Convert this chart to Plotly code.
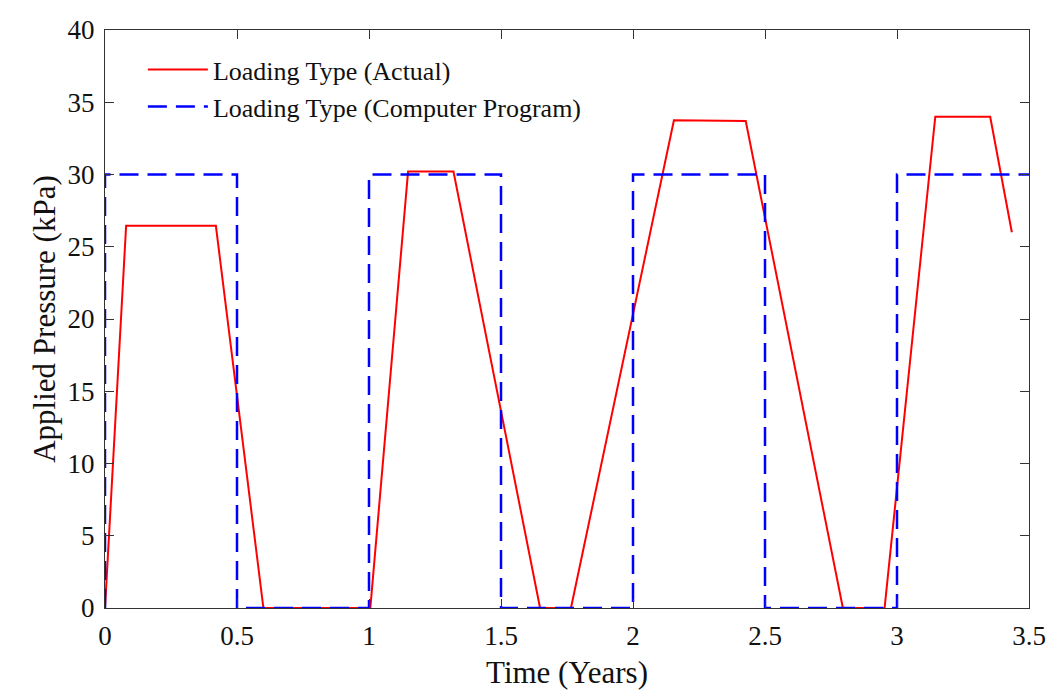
import plotly.graph_objects as go

# Actual loading (red)
actual_t = [0.0, 0.08, 0.42, 0.60, 1.005, 1.148, 1.32, 1.648, 1.765, 2.155, 2.427, 2.795, 2.953, 3.145, 3.353, 3.435]
actual_p = [0.0, 26.45, 26.45, 0.0, 0.0, 30.2, 30.2, 0.0, 0.0, 33.75, 33.7, 0.0, 0.0, 34.0, 34.0, 26.0]

# Computer program loading (blue dashed step)
prog_t = [0.0, 0.0, 0.5, 0.5, 1.0, 1.0, 1.5, 1.5, 2.0, 2.0, 2.5, 2.5, 3.0, 3.0, 3.5]
prog_p = [0.0, 30.0, 30.0, 0.0, 0.0, 30.0, 30.0, 0.0, 0.0, 30.0, 30.0, 0.0, 0.0, 30.0, 30.0]

x_ticks = [0, 0.5, 1, 1.5, 2, 2.5, 3, 3.5]
y_ticks = [0, 5, 10, 15, 20, 25, 30, 35, 40]

FONT = "Liberation Serif, Times New Roman, serif"

fig = go.Figure()
fig.add_trace(go.Scatter(x=actual_t, y=actual_p, mode="lines",
                         name="Loading Type (Actual)",
                         line=dict(color="#ff0000", width=2)))
fig.add_trace(go.Scatter(x=prog_t, y=prog_p, mode="lines",
                         name="Loading Type (Computer Program)",
                         line=dict(color="#0000ff", width=2.5, dash="19px,9px")))

axis_common = dict(showgrid=False, zeroline=False, showline=True, mirror="ticks",
                   linecolor="#333333", linewidth=1, ticks="inside", ticklen=9,
                   tickcolor="#333333", tickwidth=1,
                   tickfont=dict(family=FONT, size=27, color="#111111"))

fig.update_layout(
    width=1058, height=695,
    margin=dict(l=105, r=26, t=30, b=86),
    paper_bgcolor="white", plot_bgcolor="white",
    font=dict(family=FONT, color="#111111"),
    xaxis=dict(range=[0, 3.5], tickvals=x_ticks, ticktext=[str(v) for v in x_ticks],
               ticklabelstandoff=4,
               title=dict(text="Time (Years)", font=dict(family=FONT, size=31), standoff=10),
               **axis_common),
    yaxis=dict(range=[0, 40], tickvals=y_ticks, ticktext=[str(v) for v in y_ticks],
               ticklabelstandoff=4,
               title=dict(text="Applied Pressure (kPa)", font=dict(family=FONT, size=31), standoff=2),
               **axis_common),
    legend=dict(x=0.041, y=0.972, xanchor="left", yanchor="top",
                bgcolor="rgba(0,0,0,0)", borderwidth=0,
                font=dict(family=FONT, size=26, color="#111111"),
                itemwidth=60, tracegroupgap=0),
    showlegend=True,
)

fig.write_html("out.html")
